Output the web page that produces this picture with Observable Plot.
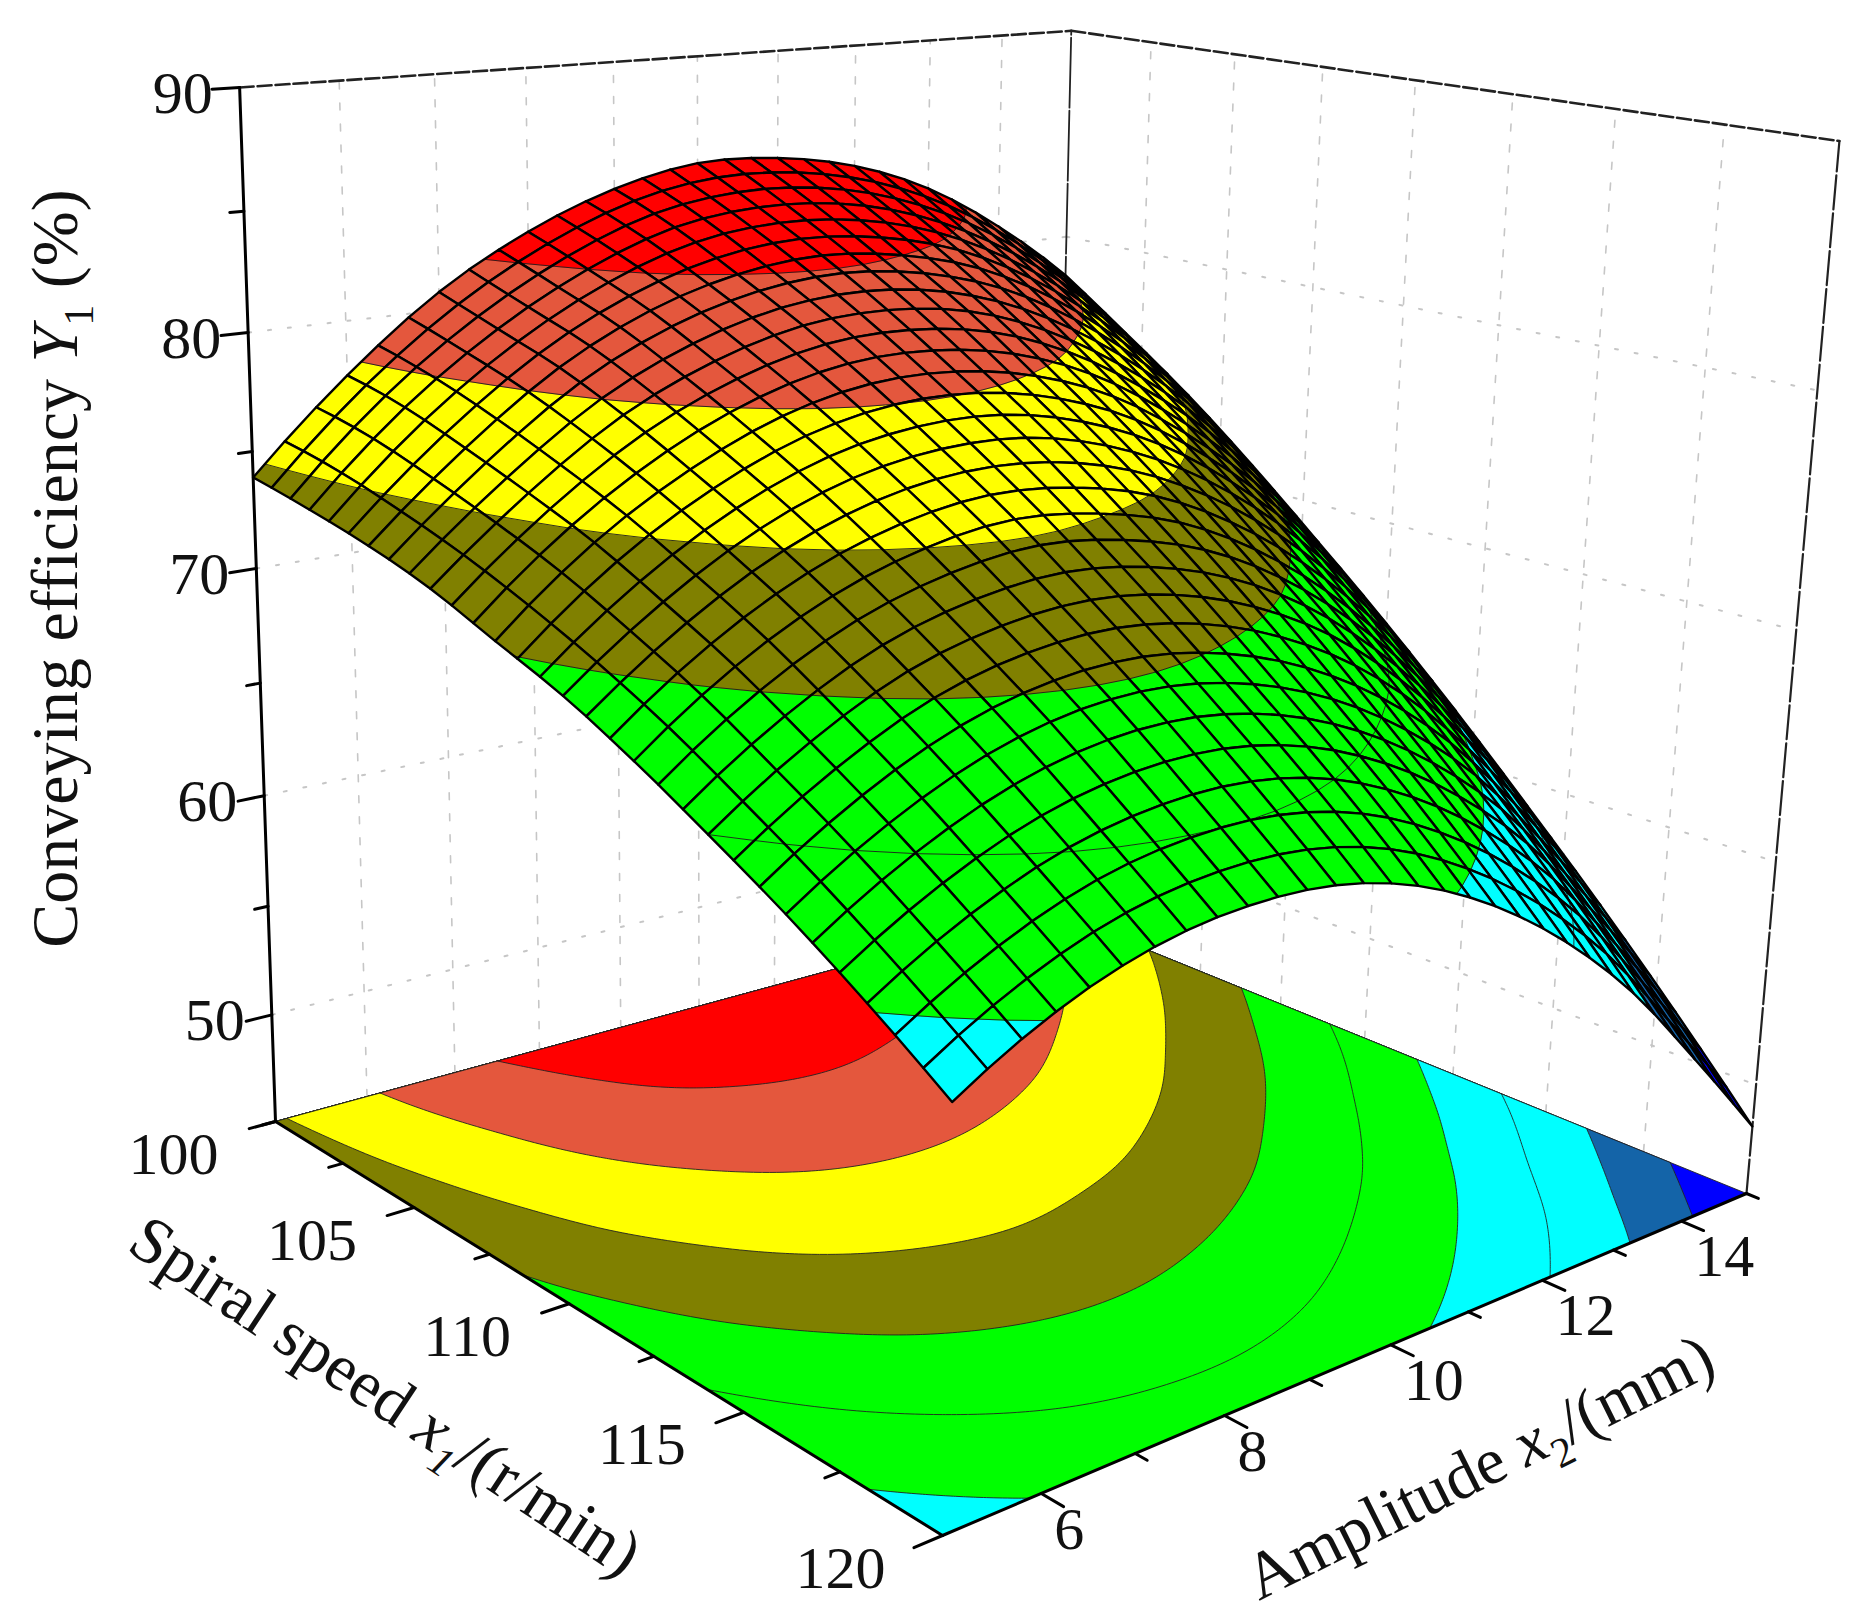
<!DOCTYPE html>
<html><head><meta charset="utf-8">
<style>html,body{margin:0;padding:0;background:#fff}svg{display:block}</style>
<script src="https://cdn.jsdelivr.net/npm/d3@7"></script>
<script src="https://cdn.jsdelivr.net/npm/@observablehq/plot@0.6"></script>
</head><body><div id="chart"></div>
<script>
// ---- Data ----
const x1Ticks = [100, 105, 110, 115, 120];
const x1Minor = [102.5, 107.5, 112.5, 117.5];
const x2Ticks = [6, 8, 10, 12, 14];
const x2Minor = [7, 9, 11, 13, 15];
const zTicks = [50, 60, 70, 80, 90];
const zMinor = [45, 55, 65, 75, 85];
const x1Domain = [100, 120];
const x2Domain = [5, 15];
const zDomain = [45, 90];
const x1Samples = [100, 102, 104, 106, 108, 110, 112, 114, 116, 118, 120];
const x2Samples = [5, 6, 7, 8, 9, 10, 11, 12, 13, 14, 15];
// Conveying efficiency: one row per x2 sample, one column per x1 sample.
const efficiency = [
  [73.9, 73.4, 72.8, 72.0, 70.9, 69.8, 68.4, 66.8, 65.1, 63.2, 61.1],
  [77.7, 77.1, 76.2, 75.2, 74.1, 72.7, 71.2, 69.4, 67.5, 65.4, 63.2],
  [80.8, 79.9, 79.0, 77.8, 76.4, 74.9, 73.2, 71.3, 69.2, 66.9, 64.5],
  [83.0, 82.0, 80.9, 79.5, 78.0, 76.3, 74.4, 72.3, 70.1, 67.6, 65.0],
  [84.5, 83.4, 82.0, 80.5, 78.8, 76.9, 74.9, 72.6, 70.2, 67.6, 64.8],
  [85.3, 83.9, 82.4, 80.7, 78.8, 76.8, 74.5, 72.1, 69.5, 66.8, 63.8],
  [85.2, 83.7, 82.0, 80.2, 78.1, 75.9, 73.5, 70.9, 68.1, 65.2, 62.0],
  [84.5, 82.8, 81.0, 78.9, 76.7, 74.3, 71.7, 69.0, 66.0, 62.9, 59.5],
  [83.1, 81.2, 79.2, 76.9, 74.5, 72.0, 69.2, 66.3, 63.2, 59.9, 56.3],
  [80.9, 78.9, 76.7, 74.3, 71.7, 69.0, 66.0, 62.9, 59.5, 56.0, 52.3],
  [78.1, 75.9, 73.6, 71.0, 68.2, 65.3, 62.2, 58.9, 55.5, 51.9, 48.1]
];
const levels = [51.6, 55.4, 59.2, 63.0, 66.8, 70.6, 74.4, 78.2, 82.0];
const bandColors = ["#0000ff", "#1464a8", "#00ffff", "#00ffff", "#00ff00", "#00ff00", "#808000", "#ffff00", "#e4573d", "#ff0000"];
const titles = {
  z: [["Conveying efficiency "], ["Y", "i"], ["1", "sub"], [" (%)"]],
  x1: [["Spiral speed "], ["x", "i"], ["1", "subi"], ["/(r/min)"]],
  x2: [["Amplitude "], ["x", "i"], ["2", "sub"], ["/(mm)"]]
};

// ---- Viewing geometry of the 3D box ----
const view = {
  A: [275, 1121], B: [942, 1535], C: [1746, 1193], D: [1050, 910], // floor corners
  e: -55, f: -1041, k: -0.08,                                       // vertical direction
  shiftD: [-5, -19], shiftC: [0, -15]
};
const meshCells = 30;
const fontFamily = "'Liberation Serif','Times New Roman',serif";

const hom = (() => {
  const {A, B, C, D} = view;
  const dx1 = B[0] - C[0], dx2 = D[0] - C[0], sx = A[0] - B[0] + C[0] - D[0];
  const dy1 = B[1] - C[1], dy2 = D[1] - C[1], sy = A[1] - B[1] + C[1] - D[1];
  const den = dx1 * dy2 - dx2 * dy1;
  const g = (sx * dy2 - dx2 * sy) / den, h = (dx1 * sy - sx * dy1) / den;
  return {g, h, ax: B[0] * (1 + g) - A[0], bx: D[0] * (1 + h) - A[0], ay: B[1] * (1 + g) - A[1], by: D[1] * (1 + h) - A[1]};
})();
function projectUV(u, v, z) {
  const w = (z - zDomain[0]) / (zDomain[1] - zDomain[0]);
  const d = hom.g * u + hom.h * v + 1 + view.k * w;
  const sx = w * (v * (1 - u) * view.shiftD[0] + u * v * view.shiftC[0]);
  const sy = w * (v * (1 - u) * view.shiftD[1] + u * v * view.shiftC[1]);
  return [(hom.ax * u + hom.bx * v + view.A[0] + view.e * w) / d + sx,
          (hom.ay * u + hom.by * v + view.A[1] + view.f * w) / d + sy];
}
const U = x1 => (x1 - x1Domain[0]) / (x1Domain[1] - x1Domain[0]);
const V = x2 => (x2 - x2Domain[0]) / (x2Domain[1] - x2Domain[0]);
const project = (x1, x2, z) => projectUV(U(x1), V(x2), z);

// Smooth reading of the sampled table, used to draw the mesh and the contour bands
// between the samples above (every third mesh line falls on a sample).
function cr1(p, q) {
  const n = p.length - 1, s = Math.min(n - 1e-9, Math.max(0, q * n)), i = Math.floor(s), t = s - i;
  const at = j => j < 0 ? 3 * p[0] - 3 * p[1] + p[2] : j > n ? 3 * p[n] - 3 * p[n - 1] + p[n - 2] : p[j];
  const a = at(i - 1), b = at(i), c = at(i + 1), d = at(i + 2);
  return 0.5 * (2 * b + (c - a) * t + (2 * a - 5 * b + 4 * c - d) * t * t + (3 * b - a - 3 * c + d) * t * t * t);
}
const surfaceAt = (u, v) => cr1(efficiency.map(row => cr1(row, u)), v);

// ---- Build the rows the marks draw ----
const surfaceRows = [];
let sid = 0;
function addPath(rows, pts, f, s, w) {
  const id = sid++;
  for (const p of pts) rows.push({id, x: p[0], y: p[1], f, s, w});
}
function clipBand(poly, lo, hi) {
  const clip = (pts, keep, cross) => {
    const out = [];
    pts.forEach((p, i) => {
      const q = pts[(i + 1) % pts.length];
      if (keep(p)) out.push(p);
      if (keep(p) !== keep(q)) {
        const t = (cross - p[2]) / (q[2] - p[2]);
        out.push([p[0] + (q[0] - p[0]) * t, p[1] + (q[1] - p[1]) * t, cross]);
      }
    });
    return out;
  };
  let r = poly;
  if (lo > -Infinity) r = clip(r, p => p[2] >= lo, lo);
  if (r.length && hi < Infinity) r = clip(r, p => p[2] <= hi, hi);
  return r;
}
const closeRing = pts => pts.concat([pts[0]]);
const n = meshCells;
const grid = d3.range(n + 1).map(i => d3.range(n + 1).map(j => surfaceAt(i / n, j / n)));
// painter's order: far corner (x1 low, x2 high) first
for (let i = 0; i < n; i++) for (let j = n - 1; j >= 0; j--) {
  const corners = [[i, j], [i + 1, j], [i + 1, j + 1], [i, j + 1]].map(([a, b]) => [a / n, b / n, grid[a][b]]);
  const bounds = [-Infinity, ...levels, Infinity];
  for (let k = 0; k < bandColors.length; k++) {
    const piece = clipBand(corners, bounds[k], bounds[k + 1]);
    if (piece.length >= 3) addPath(surfaceRows, closeRing(piece.map(p => projectUV(p[0], p[1], p[2]))), bandColors[k], bandColors[k], 0.7);
  }
  for (const L of levels) {
    const cross = [];
    corners.forEach((p, m) => {
      const q = corners[(m + 1) % 4];
      if ((p[2] < L) !== (q[2] < L)) {
        const t = (L - p[2]) / (q[2] - p[2]);
        cross.push(projectUV(p[0] + (q[0] - p[0]) * t, p[1] + (q[1] - p[1]) * t, L));
      }
    });
    if (cross.length >= 2) addPath(surfaceRows, cross.slice(0, 2), "none", "#1c1c1c", 0.9);
  }
  addPath(surfaceRows, closeRing(corners.map(p => projectUV(p[0], p[1], p[2]))), "none", "#000", 2.4);
}

const floorRows = [];
addPath(floorRows, closeRing([[0, 0], [1, 0], [1, 1], [0, 1]].map(([u, v]) => projectUV(u, v, zDomain[0]))), bandColors[0], "#222", 0.9);
const fine = 181;
const fineVals = new Float64Array(fine * fine);
for (let j = 0; j < fine; j++) {
  const v = j / (fine - 1);
  for (let i = 0; i < fine; i++) fineVals[j * fine + i] = surfaceAt(i / (fine - 1), v);
}
const clamp01 = q => Math.max(0, Math.min(1, q));
d3.contours().size([fine, fine]).thresholds(levels)(fineVals).forEach((mp, k) => {
  for (const poly of mp.coordinates) {
    const ring = poly[0].map(([gx, gy]) => projectUV(clamp01((gx - 0.5) / (fine - 1)), clamp01((gy - 0.5) / (fine - 1)), zDomain[0]));
    addPath(floorRows, ring, bandColors[k + 1], "#222", 0.9);
  }
});

// Wall grid
const seg = (rows, a, b) => addPath(rows, [a, b], "none", "#000", 1);
const gridV = [], gridH = [];
for (const s of d3.range(6, 15)) seg(gridV, project(x1Domain[0], s, zDomain[0]), project(x1Domain[0], s, zDomain[1]));
for (const s of [...x1Ticks, ...x1Minor].filter(d => d > 100 && d < 120)) seg(gridV, project(s, x2Domain[1], zDomain[0]), project(s, x2Domain[1], zDomain[1]));
for (const z of zTicks.slice(0, 4)) {
  seg(gridH, project(100, 5, z), project(100, 15, z));
  seg(gridH, project(100, 15, z), project(120, 15, z));
}
// Frame
const topDash = [], backLine = [], rightLine = [], solid = [], ticks = [];
seg(topDash, project(100, 5, 90), project(100, 15, 90));
seg(topDash, project(100, 15, 90), project(120, 15, 90));
seg(backLine, project(100, 15, 45), project(100, 15, 90));
seg(rightLine, project(120, 15, 45), project(120, 15, 90));
seg(solid, project(100, 5, 45), project(100, 5, 90));
seg(solid, project(100, 5, 45), project(120, 5, 45));
seg(solid, project(120, 5, 45), project(120, 15, 45));
// Ticks (pointing outwards along the floor directions)
for (const z of zTicks) seg(ticks, projectUV(0, 0, z), projectUV(0, -0.027, z));
for (const z of zMinor) seg(ticks, projectUV(0, 0, z), projectUV(0, -0.014, z));
for (const s of x1Ticks) seg(ticks, project(s, 5, 45), projectUV(U(s), -0.028, 45));
for (const s of x1Minor) seg(ticks, project(s, 5, 45), projectUV(U(s), -0.015, 45));
for (const s of x2Ticks) seg(ticks, project(120, s, 45), projectUV(1.026, V(s), 45));
for (const s of x2Minor) seg(ticks, project(120, s, 45), projectUV(1.014, V(s), 45));

const labelsZ = zTicks.map(z => { const p = project(100, 5, z); return {x: p[0], y: p[1], t: String(z)}; });
const labelsX1 = x1Ticks.map(s => { const p = project(s, 5, 45); return {x: p[0], y: p[1], t: String(s)}; });
const labelsX2 = x2Ticks.map(s => { const p = project(120, s, 45); return {x: p[0], y: p[1], t: String(s)}; });
const plain = parts => parts.map(p => p[0]).join("");
const titleAnchors = [
  {t: plain(titles.z), x: 55, y: 568, r: -90},
  {t: plain(titles.x1), x: 385, y: 1396, r: 33.5},
  {t: plain(titles.x2), x: 1479, y: 1467, r: -26.5}
];

const lineOpts = {x: "x", y: "y", z: "id"};
const styled = {...lineOpts, fill: d => d.f, stroke: d => d.s, strokeWidth: d => d.w, strokeLinejoin: "round"};
const textStyle = {text: "t", fontSize: 60, fill: "#111", stroke: "none"};

const chart = Plot.plot({
  width: 1855, height: 1619, margin: 0,
  x: {domain: [0, 1855], range: [0, 1855], axis: null},
  y: {domain: [0, 1619], range: [0, 1619], axis: null},
  color: {type: "identity"},
  style: {fontFamily, background: "#fff"},
  marks: [
    Plot.line(gridV, {...lineOpts, stroke: "#c6c6c6", strokeWidth: 1.6, strokeDasharray: "7,14"}),
    Plot.line(gridH, {...lineOpts, stroke: "#c6c6c6", strokeWidth: 2, strokeDasharray: "3,17"}),
    Plot.line(floorRows, styled),
    Plot.line(topDash, {...lineOpts, stroke: "#222", strokeWidth: 2.6, strokeDasharray: "14,4"}),
    Plot.line(backLine, {...lineOpts, stroke: "#222", strokeWidth: 1.8, strokeDasharray: "70,3"}),
    Plot.line(rightLine, {...lineOpts, stroke: "#222", strokeWidth: 2.2, strokeDasharray: "34,4"}),
    Plot.line(solid, {...lineOpts, stroke: "#000", strokeWidth: 3}),
    Plot.line(surfaceRows, styled),
    Plot.line(ticks, {...lineOpts, stroke: "#000", strokeWidth: 3}),
    Plot.text(labelsZ, {x: "x", y: "y", ...textStyle, textAnchor: "end", dx: -27, dy: 6}),
    Plot.text(labelsX1, {x: "x", y: "y", ...textStyle, textAnchor: "middle", dx: -102, dy: 33}),
    Plot.text(labelsX2, {x: "x", y: "y", ...textStyle, textAnchor: "start", dx: 13, dy: 36}),
    Plot.text(titleAnchors, {x: "x", y: "y", text: "t", rotate: "r", fontSize: 66, fill: "#111", textAnchor: "middle"})
  ]
});
// Italic letters and subscripts stay real text inside the titles.
const NS = "http://www.w3.org/2000/svg";
for (const parts of Object.values(titles)) {
  const str = plain(parts);
  for (const el of chart.querySelectorAll("text")) {
    if (el.textContent !== str) continue;
    el.textContent = "";
    let back = 0;
    for (const [txt, kind] of parts) {
      const ts = document.createElementNS(NS, "tspan");
      ts.textContent = txt;
      if (kind === "i" || kind === "subi") ts.setAttribute("font-style", "italic");
      let dy = back; back = 0;
      if (kind === "sub" || kind === "subi") { ts.setAttribute("font-size", 42); dy += 16; back = -16; }
      if (dy) ts.setAttribute("dy", dy);
      el.appendChild(ts);
    }
  }
}
document.getElementById("chart").appendChild(chart);
</script></body></html>
